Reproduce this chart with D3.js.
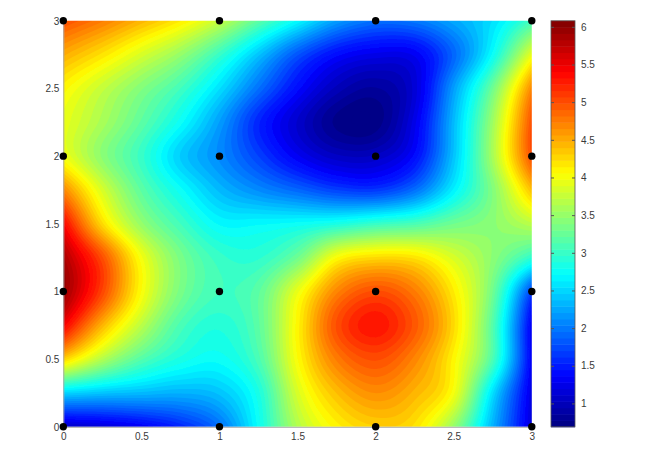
<!DOCTYPE html>
<html><head><meta charset="utf-8">
<script src="https://cdn.jsdelivr.net/npm/d3@7/dist/d3.min.js"></script>
<style>html,body{margin:0;background:#fff}svg{display:block}text{font-family:"Liberation Sans",sans-serif;font-size:10px;fill:#3a3a3a}</style>
</head><body><div id="c"></div>
<script>
// Surface values, rows from y=3 down to y=0, columns x=0..3 in steps of 0.25
const gridX=[0,.25,.5,.75,1,1.25,1.5,1.75,2,2.25,2.5,2.75,3];
const gridY=[3,2.75,2.5,2.25,2,1.75,1.5,1.25,1,.75,.5,.25,0];
const surface=[
[5.00,4.75,4.45,4.15,3.75,3.20,2.70,2.20,1.95,2.00,2.25,2.55,3.05],
[4.50,4.20,3.85,3.50,3.00,2.40,1.80,1.40,1.25,1.30,1.90,2.75,3.95],
[4.10,3.75,3.40,3.05,2.55,1.95,1.40,1.00,0.85,1.15,2.20,3.30,4.70],
[3.95,3.60,3.20,2.75,2.20,1.55,1.10,0.75,0.72,1.25,2.35,3.55,5.00],
[4.00,3.45,3.00,2.45,2.10,1.70,1.30,1.05,1.05,1.40,2.40,3.60,5.00],
[4.70,3.85,3.20,2.75,2.35,2.10,1.90,1.70,1.65,1.95,2.65,3.40,4.40],
[5.40,4.25,3.50,3.05,2.70,2.70,2.75,2.85,3.00,3.10,3.30,3.45,3.70],
[5.85,5.00,4.00,3.35,3.00,2.95,3.30,4.05,4.25,4.20,3.85,3.45,2.95],
[5.95,5.05,4.05,3.35,3.05,3.20,3.95,4.70,5.00,4.75,4.15,3.30,1.70],
[5.45,4.45,3.70,3.10,2.90,3.20,4.10,5.00,5.30,4.95,4.25,3.15,1.30],
[4.30,3.65,3.15,2.85,2.75,3.10,4.05,4.75,5.00,4.70,4.10,3.10,1.30],
[2.50,2.40,2.35,2.30,2.40,2.85,3.85,4.40,4.65,4.45,4.00,2.55,1.20],
[1.05,1.15,1.30,1.55,1.95,2.75,3.65,4.10,4.30,4.20,3.50,2.30,1.15]];
const pointX=[0,1,2,3];
const pointY=[0,1,2,3];
const axisTicks=[0,.5,1,1.5,2,2.5,3];
const barTicks=[1,1.5,2,2.5,3,3.5,4,4.5,5,5.5,6];
const valueMin=.69, valueMax=6.08, levelCount=64;

const W=667,H=467;
const svg=d3.select('#c').append('svg').attr('width',W).attr('height',H);
const x=d3.scaleLinear().domain([0,3]).range([63.3,531.8]);
const y=d3.scaleLinear().domain([0,3]).range([426.8,20.8]);
const cy=d3.scaleLinear().domain([valueMin,valueMax]).range([426.8,20.8]);
const jet=t=>{const f=v=>Math.round(255*Math.max(0,Math.min(1,1.5-Math.abs(4*t-v))));return `rgb(${f(3)},${f(2)},${f(1)})`;};
const levels=d3.range(levelCount);
const levelValue=i=>valueMin+(valueMax-valueMin)*i/levelCount;
const levelColor=i=>jet((i+.5)/levelCount);

const defs=svg.append('defs');
defs.append('clipPath').attr('id','plot').append('rect').attr('x',x(0)).attr('y',y(3)).attr('width',x(3)-x(0)).attr('height',y(0)-y(3));
const blur=defs.append('filter').attr('id','soft').attr('x','-5%').attr('y','-5%').attr('width','110%').attr('height','110%');
blur.append('feGaussianBlur').attr('stdDeviation',.7);

// Smooth rendering of the read surface: cubic resampling between its samples, then d3.contours
const nx=gridX.length, ny=gridY.length, k=8;
const at=(r,c)=>{ // edge samples extended straight outward
  const rr=Math.max(0,Math.min(ny-1,r)), cc=Math.max(0,Math.min(nx-1,c));
  let v=surface[rr][cc];
  if(r!==rr){const d=rr===0?1:-1;v+=(surface[rr][cc]-surface[rr+d][cc])*Math.abs(r-rr);}
  if(c!==cc){const d=cc===0?1:-1;v+=(surface[rr][cc]-surface[rr][cc+d])*Math.abs(c-cc);}
  return v;};
const cr=(a,b,c,d,t)=>b+.5*t*(c-a+t*(2*a-5*b+4*c-d+t*(3*(b-c)+d-a)));
const mx=(nx-1)*k+1, my=(ny-1)*k+1, fine=new Float64Array(mx*my);
for(let j=0;j<my;j++){const r=Math.min(ny-2,Math.floor(j/k)),tr=j/k-r;
  for(let i=0;i<mx;i++){const c=Math.min(nx-2,Math.floor(i/k)),tc=i/k-c;
    const row=q=>cr(at(q,c-1),at(q,c),at(q,c+1),at(q,c+2),tc);
    fine[j*mx+i]=cr(row(r-1),row(r),row(r+1),row(r+2),tr);}}
const contours=d3.contours().size([mx,my]).thresholds(levels.map(levelValue))(Array.from(fine));
const fx=d3.scaleLinear().domain([.5,mx-.5]).range([x(0),x(3)]);
const fy=d3.scaleLinear().domain([.5,my-.5]).range([y(3),y(0)]);
const proj=d3.geoTransform({point(a,b){this.stream.point(fx(a),fy(b));}});
const path=d3.geoPath(proj);
const field=svg.append('g').attr('clip-path','url(#plot)').append('g').attr('filter','url(#soft)');
field.append('rect').attr('x',x(0)-20).attr('y',y(3)-20).attr('width',x(3)-x(0)+40).attr('height',y(0)-y(3)+40).attr('fill',levelColor(0));
field.selectAll('path').data(contours).join('path').attr('d',path).attr('fill',(d,i)=>levelColor(i));

// Axes
const ax=svg.append('g').attr('transform',`translate(0,${y(0)})`).call(d3.axisBottom(x).tickValues(axisTicks).tickFormat(d3.format('~g')).tickSize(0).tickPadding(6));
const ay=svg.append('g').attr('transform',`translate(${x(0)},0)`).call(d3.axisLeft(y).tickValues(axisTicks).tickFormat(d3.format('~g')).tickSize(0).tickPadding(4));
[ax,ay].forEach(g=>{g.select('.domain').attr('stroke','#aaa').attr('stroke-width',1);g.selectAll('text').style('font-family','"Liberation Sans"').style('font-size','10px');});

// Sample points
const pts=pointY.flatMap(b=>pointX.map(a=>[a,b]));
svg.append('g').selectAll('circle').data(pts).join('circle').attr('cx',d=>x(d[0])).attr('cy',d=>y(d[1])).attr('r',3.7).attr('fill','#000');

// Colorbar
const bar=svg.append('g');
const bw=[551,575];
bar.selectAll('rect').data(levels).join('rect').attr('x',bw[0]).attr('width',bw[1]-bw[0])
  .attr('y',i=>cy(levelValue(i+1))).attr('height',i=>cy(levelValue(i))-cy(levelValue(i+1))+.5).attr('fill',levelColor);
bar.append('rect').attr('x',bw[0]).attr('y',cy(valueMax)).attr('width',bw[1]-bw[0]).attr('height',cy(valueMin)-cy(valueMax)).attr('fill','none').attr('stroke','#555').attr('stroke-width',.8);
const by=svg.append('g').attr('transform',`translate(${bw[1]},0)`).call(d3.axisRight(cy).tickValues(barTicks).tickFormat(d3.format('~g')).tickSize(-3).tickPadding(6));
by.select('.domain').remove();
by.selectAll('line').attr('stroke','#555');
by.selectAll('text').style('font-family','"Liberation Sans"').style('font-size','10px');
svg.append('g').attr('transform',`translate(${bw[0]},0)`).call(d3.axisRight(cy).tickValues(barTicks).tickFormat('').tickSize(3)).call(g=>{g.select('.domain').remove();g.selectAll('line').attr('stroke','#555');});
svg.selectAll('text').attr('fill','#3a3a3a');
</script></body></html>
